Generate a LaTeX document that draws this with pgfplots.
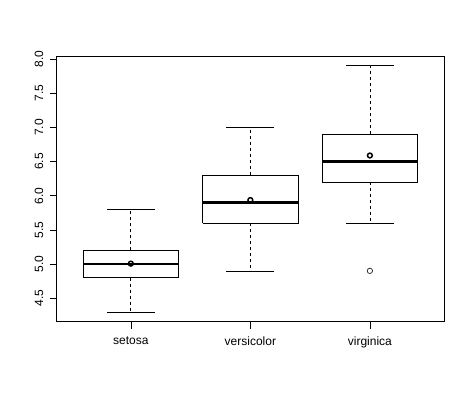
\documentclass[border=0pt]{standalone}
\usepackage{pgfplots}
\pgfplotsset{compat=1.18}
\usepackage{fontspec}
\setmainfont{Liberation Sans}
\begin{document}
\begin{tikzpicture}[x=1pt,y=1pt]
\path (-56.7,-70.3) rectangle (417.3,321.7);
\begin{axis}[
  at={(0,0)}, anchor=south west,
  scale only axis, width=387.3pt, height=265.7pt,
  xmin=0.38, xmax=3.62, ymin=4.156, ymax=8.044,
  xtick={1,2,3}, xticklabels={setosa,versicolor,virginica},
  ytick={4.5,5,5.5,6,6.5,7,7.5,8},
  yticklabels={4.5,5.0,5.5,6.0,6.5,7.0,7.5,8.0},
  yticklabel style={rotate=90, anchor=south, xshift=0pt},
  tick align=outside, tick pos=left,
  major tick length=7pt,
  xticklabel style={yshift=-5pt},
  yticklabel shift=3pt,
  every tick/.style={black, line width=0.6pt},
  axis line style={line width=0.75pt},
  tick label style={font=\fontsize{12}{14}\selectfont},
  axis x line*=box, axis y line*=box,
  clip=false,
]
% boxes
\addplot[black, line width=0.7pt] coordinates {(0.6,4.8)(1.4,4.8)(1.4,5.2)(0.6,5.2)(0.6,4.8)};
\addplot[black, line width=0.7pt] coordinates {(1.6,5.6)(2.4,5.6)(2.4,6.3)(1.6,6.3)(1.6,5.6)};
\addplot[black, line width=0.7pt] coordinates {(2.6,6.2)(3.4,6.2)(3.4,6.9)(2.6,6.9)(2.6,6.2)};
% medians
\addplot[black, line width=2.6pt] coordinates {(0.6,5.0)(1.4,5.0)};
\addplot[black, line width=2.6pt] coordinates {(1.6,5.9)(2.4,5.9)};
\addplot[black, line width=2.6pt] coordinates {(2.6,6.5)(3.4,6.5)};
% whiskers
\addplot[black, line width=0.7pt, dash pattern=on 3pt off 3pt] coordinates {(1,5.2)(1,5.8)};
\addplot[black, line width=0.7pt, dash pattern=on 3pt off 3pt] coordinates {(1,4.8)(1,4.3)};
\addplot[black, line width=0.7pt, dash pattern=on 3pt off 3pt] coordinates {(2,6.3)(2,7.0)};
\addplot[black, line width=0.7pt, dash pattern=on 3pt off 3pt] coordinates {(2,5.6)(2,4.9)};
\addplot[black, line width=0.7pt, dash pattern=on 3pt off 3pt] coordinates {(3,6.9)(3,7.9)};
\addplot[black, line width=0.7pt, dash pattern=on 3pt off 3pt] coordinates {(3,6.2)(3,5.6)};
% caps
\addplot[black, line width=0.7pt] coordinates {(0.8,5.8)(1.2,5.8)};
\addplot[black, line width=0.7pt] coordinates {(0.8,4.3)(1.2,4.3)};
\addplot[black, line width=0.7pt] coordinates {(1.8,7.0)(2.2,7.0)};
\addplot[black, line width=0.7pt] coordinates {(1.8,4.9)(2.2,4.9)};
\addplot[black, line width=0.7pt] coordinates {(2.8,7.9)(3.2,7.9)};
\addplot[black, line width=0.7pt] coordinates {(2.8,5.6)(3.2,5.6)};
% outlier
\addplot[only marks, mark=o, mark size=2.7pt, black!80, mark options={line width=0.8pt}] coordinates {(3,4.9)};
% means
\addplot[only marks, mark=o, mark size=2.4pt, black, mark options={line width=1.5pt}] coordinates {(1,5.006)(2,5.936)(3,6.588)};
\end{axis}
\end{tikzpicture}
\end{document}
